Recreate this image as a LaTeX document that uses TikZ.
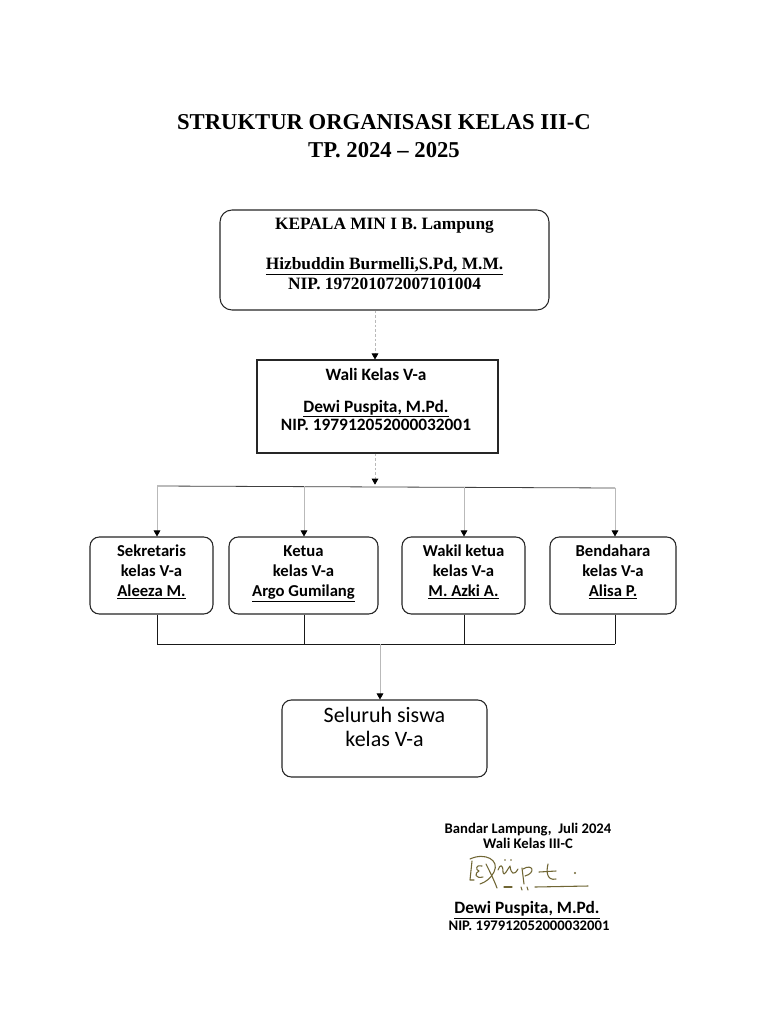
\documentclass[tikz,border=0pt]{standalone}
\usepackage{fontspec}
\setmainfont{Liberation Serif}
\newfontfamily\calibri{Carlito}
\usetikzlibrary{arrows.meta}

\definecolor{tinta}{RGB}{112,102,52}

\begin{document}
\begin{tikzpicture}[x=0.75pt,y=-0.75pt,
  kotak/.style={draw=black!85, line width=0.8pt},
  kotakr/.style={kotak, rounded corners=7pt},
  panah/.style={gray!55, line width=0.6pt,
    -{Triangle[width=5pt,length=4.5pt,color=black]}},
  putus/.style={panah, dash pattern=on 2pt off 1.5pt},
  garis/.style={black!90, line width=0.7pt},
  isi/.style={font=\calibri\bfseries\fontsize{12.5}{15}\selectfont, align=center, anchor=north},
  ttd/.style={tinta, line width=0.8pt, line cap=round, line join=round}]

\fill[white] (0,0) rectangle (768,1024);
\useasboundingbox (0,0) rectangle (768,1024);

% judul
\node[font=\bfseries\fontsize{17}{21}\selectfont, align=center] (judul) at (384,136)
  {STRUKTUR ORGANISASI KELAS III-C\\TP. 2024 – 2025};

% kepala madrasah
\node[kotakr, rounded corners=9pt, minimum width=246.75pt, minimum height=75pt] (kepala) at (384.5,260) {};
\node[font=\bfseries\fontsize{13}{15}\selectfont, align=center] (kepala-t) at (384.5,254)
  {KEPALA MIN I B. Lampung\\[15pt] \underline{Hizbuddin Burmelli,S.Pd, M.M.}\\ NIP. 197201072007101004};

% wali kelas
\node[kotak, minimum width=180.75pt, minimum height=69.75pt] (wali) at (377.5,406.5) {};
\node[font=\calibri\bfseries\fontsize{13}{13.5}\selectfont, align=center] (wali-t) at (376,399)
  {Wali Kelas V-a\\[10.5pt] \underline{Dewi Puspita, M.Pd.}\\ NIP. 197912052000032001};

% pengurus kelas
\node[kotakr, minimum width=92.25pt, minimum height=57.75pt] (sek) at (151.5,575.5) {};
\node[kotakr, minimum width=111.75pt, minimum height=57.75pt] (ket) at (303.5,575.5) {};
\node[kotakr, minimum width=92.25pt, minimum height=57.75pt] (wak) at (463.5,575.5) {};
\node[kotakr, minimum width=94.5pt, minimum height=57.75pt] (ben) at (613,575.5) {};
\node[isi] (sek-t) at (151.5,540) {Sekretaris\\kelas V-a\\\underline{Aleeza M.}};
\node[isi] (ket-t) at (303.5,540) {Ketua\vphantom{k}\\kelas V-a\\\underline{Argo Gumilang}};
\node[isi] (wak-t) at (463.5,540) {Wakil ketua\\kelas V-a\\\underline{M. Azki A.}};
\node[isi] (ben-t) at (613,540) {Bendahara\\kelas V-a\\\underline{Alisa P.}};

% siswa
\node[kotakr, minimum width=153.75pt, minimum height=57.75pt] (siswa) at (384.5,738.5) {};
\node[font=\calibri\fontsize{16.5}{18}\selectfont, align=center] (siswa-t) at (384.5,727)
  {Seluruh siswa\\kelas V-a};

% titik bantu
\coordinate (c1) at (375,0);
\coordinate (c2) at (380,0);
\coordinate (atas-1) at (157,486);
\coordinate (atas-2) at (304,486);
\coordinate (atas-3) at (464,487);
\coordinate (atas-4) at (615,488);
\coordinate (bawah-1) at (157,644);
\coordinate (bawah-2) at (304,644);
\coordinate (bawah-3) at (464,644);
\coordinate (bawah-4) at (615,644);

% garis penghubung
\draw[putus] (kepala.south -| c1) -- (wali.north -| c1);
\draw[putus] (wali.south -| c1) -- ([yshift=1pt]c1 |- atas-1);
\draw[garis, black!75, line width=0.6pt] (atas-1) -- (atas-4);
\foreach \i/\k in {1/sek,2/ket,3/wak,4/ben}{
  \draw[panah] (atas-\i) -- (atas-\i |- \k.north);
  \draw[garis] (atas-\i |- \k.south) -- (bawah-\i);
}
\draw[garis] (bawah-1) -- (bawah-4);
\draw[panah] (c2 |- bawah-1) -- (c2 |- siswa.north);

% tanda tangan
\node[font=\calibri\bfseries\fontsize{11}{11.25}\selectfont, align=center] (ttd-t) at (528,835.5)
  {Bandar Lampung,\ \ Juli 2024\\Wali Kelas III-C};
\draw[ttd] (472,861) -- (470,880) -- (474,880);
\draw[ttd] (482,866) .. controls (476,864) and (475,870) .. (479,871) .. controls (474,873) and (475,879) .. (483,877);
\draw[ttd] (470,859) .. controls (485,852) and (500,860) .. (494,872) .. controls (491,878) and (486,882) .. (480,884);
\draw[ttd] (486,864) .. controls (490,872) and (494,880) .. (497,888);
\draw[ttd] (498,870) .. controls (500,864) and (503,864) .. (503,872) .. controls (504,878) and (508,868) .. (510,866) .. controls (511,874) and (514,876) .. (518,869);
\fill[tinta] (505,860) circle (0.7pt);
\fill[tinta] (511,860) circle (0.7pt);
\draw[ttd] (522,868) -- (524,884);
\draw[ttd] (523,869) .. controls (533,863) and (536,873) .. (525,876);
\draw[ttd] (539,872) -- (556,871);
\draw[ttd] (548,864) .. controls (546,872) and (547,881) .. (556,879);
\fill[tinta] (575,873) circle (0.9pt);
\draw[ttd] (504,887) -- (512,887);
\draw[ttd] (521,887) -- (522,890);
\draw[ttd] (527,887) -- (528,890);
\draw[ttd] (535,887) -- (588,886);
\node[font=\calibri\bfseries\fontsize{13}{13}\selectfont] (ttd-nama) at (527,910) {\underline{Dewi Puspita, M.Pd.}};
\node[font=\calibri\bfseries\fontsize{11}{11}\selectfont] (ttd-nip) at (529,926) {NIP. 197912052000032001};

\end{tikzpicture}
\end{document}
